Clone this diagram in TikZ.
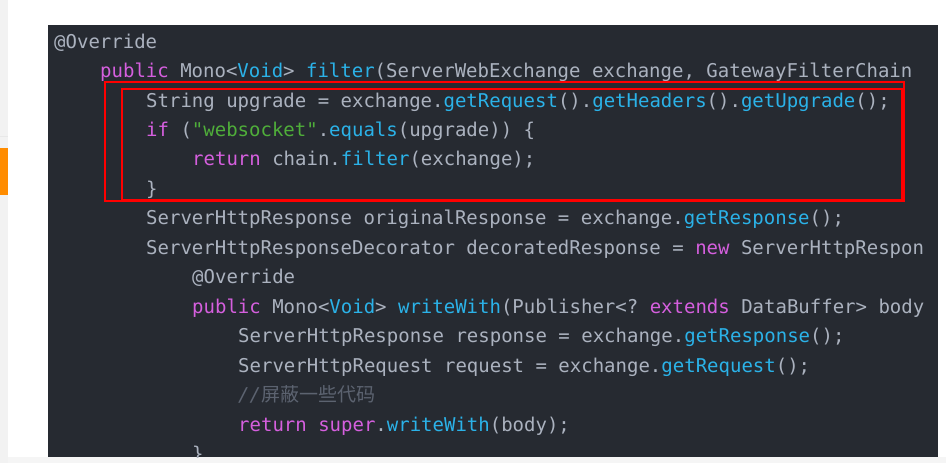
\documentclass[tikz,border=0pt]{standalone}
\usepackage{fontspec}
\setmonofont{DejaVu Sans Mono}
\newfontfamily\cjk{Noto Sans CJK SC}
\definecolor{bgc}{HTML}{262A31}
\definecolor{txc}{HTML}{ABB2BF}
\definecolor{kwc}{HTML}{D55FDE}
\definecolor{fnc}{HTML}{2BB2E8}
\definecolor{stc}{HTML}{4FAE3A}
\definecolor{cmc}{HTML}{5C6370}
\definecolor{anc}{HTML}{9DA5B0}
\newcommand{\K}[1]{\textcolor{kwc}{#1}}
\newcommand{\F}[1]{\textcolor{fnc}{#1}}
\newcommand{\Sg}[1]{\textcolor{stc}{#1}}
\begin{document}
\begin{tikzpicture}[x=1pt,y=-1pt,
  code/.style={anchor=base west,inner sep=0pt,font=\ttfamily\fontsize{19}{19}\selectfont,text=txc}]
\useasboundingbox (0,0) rectangle (946,463);
\fill[white] (0,0) rectangle (946,463);
\fill[gray!10] (0,0) rectangle (8,463);
\fill[gray!18] (0,136) rectangle (8,137);
\fill[orange!90!yellow] (0,148) rectangle (8,195);
\fill[gray!8] (8,457) rectangle (946,463);
\fill[bgc] (48,25) rectangle (938,457);
\node[code] (l1) at (54,48) {@Override};
\node[code] (l2) at (100,77) {\K{public} Mono<\F{Void}> \F{filter}(ServerWebExchange exchange, GatewayFilterChain};
\node[code] (l3) at (146,107) {String upgrade = exchange.\F{getRequest}().\F{getHeaders}().\F{getUpgrade}();};
\node[code] (l4) at (146,136) {\K{if} (\Sg{"websocket"}.\F{equals}(upgrade)) \{};
\node[code] (l5) at (192,165) {\K{return} chain.\F{filter}(exchange);};
\node[code] (l6) at (146,195) {\}};
\node[code] (l7) at (146,224) {ServerHttpResponse originalResponse = exchange.\F{getResponse}();};
\node[code] (l8) at (146,254) {ServerHttpResponseDecorator decoratedResponse = \K{new} ServerHttpRespon};
\node[code] (l9) at (192,283) {@Override};
\node[code] (l10) at (192,313) {\K{public} Mono<\F{Void}> \F{writeWith}(Publisher<? \K{extends} DataBuffer> body};
\node[code] (l11) at (238,342) {ServerHttpResponse response = exchange.\F{getResponse}();};
\node[code] (l12) at (238,372) {ServerHttpRequest request = exchange.\F{getRequest}();};
\node[code,text=cmc] (l13) at (238,401) {\itshape //{\cjk\fontsize{19}{19}\selectfont\itshape 屏蔽一些代码}};
\node[code] (l14) at (238,431) {\K{return} \K{super}.\F{writeWith}(body);};
\begin{scope}
\clip (48,25) rectangle (938,457);
\node[code] (l15) at (192,460) {\}};
\end{scope}
\fill[white] (938,25) rectangle (946,457);
\draw[red,line width=2.5pt] (105,82) rectangle (904,201);
\draw[red,line width=2.5pt] (122,89) rectangle (902,200);
\end{tikzpicture}
\end{document}
